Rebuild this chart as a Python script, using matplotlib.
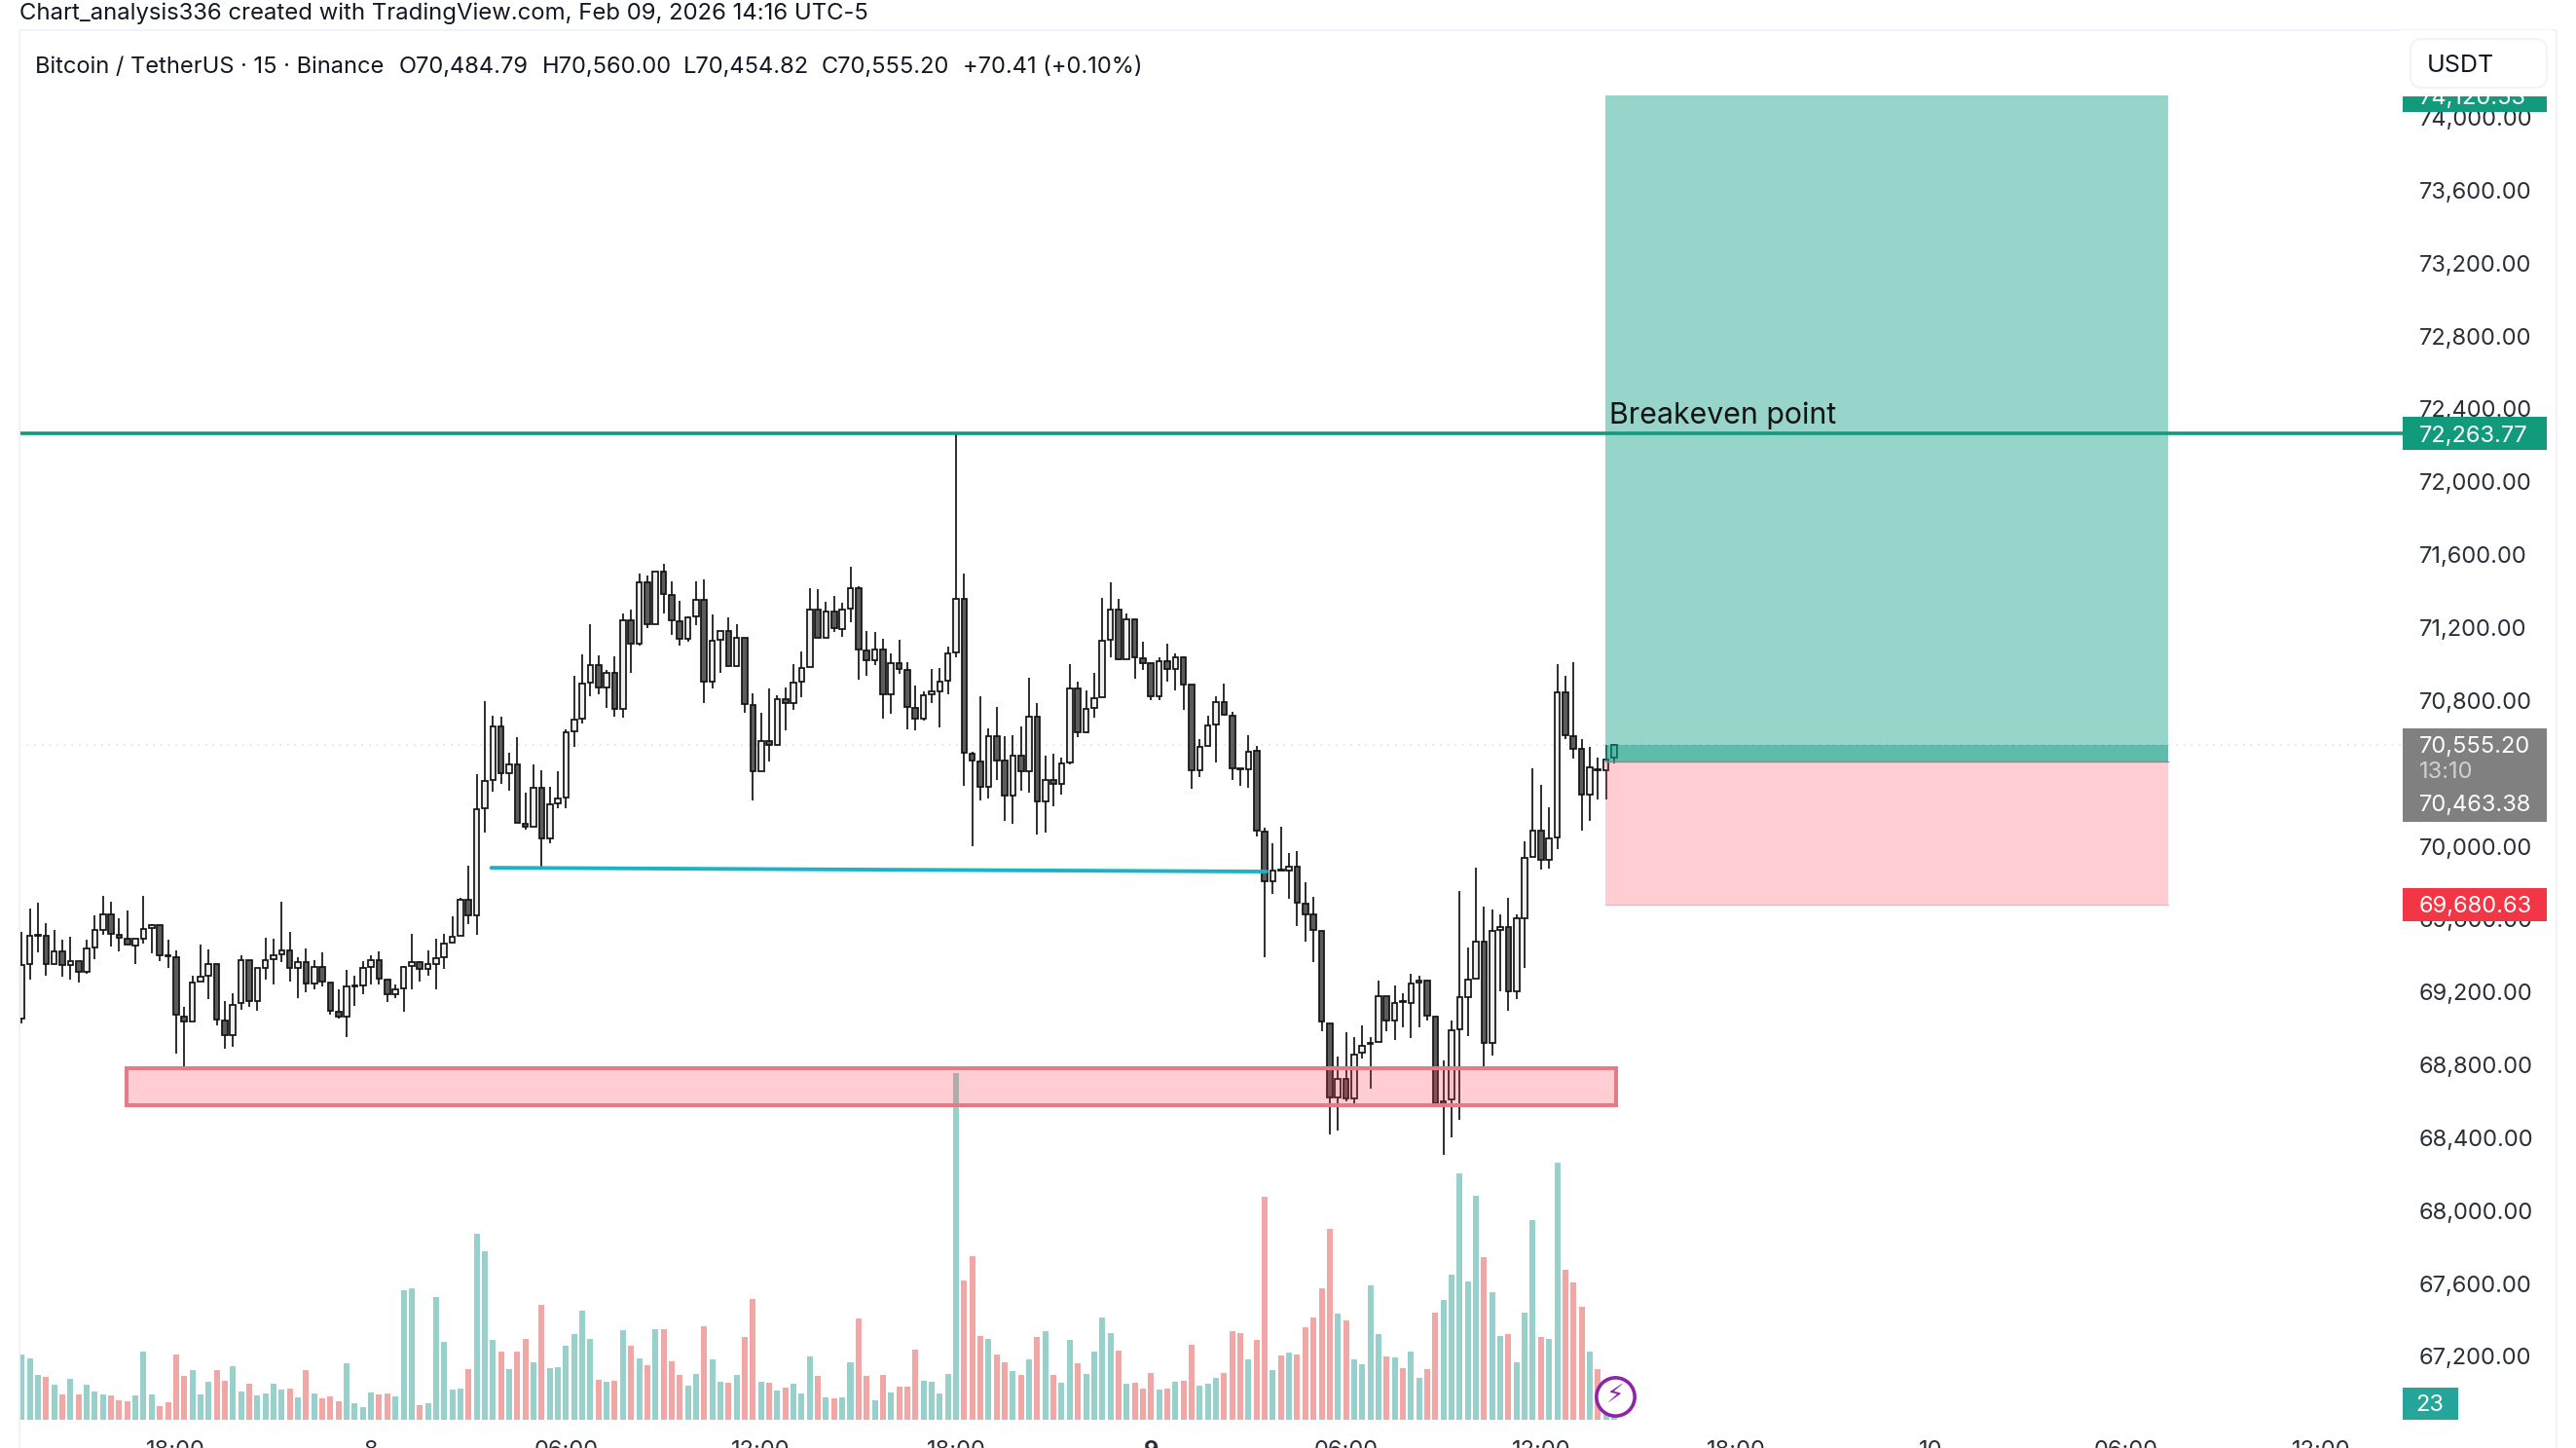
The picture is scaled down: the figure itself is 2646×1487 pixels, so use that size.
import matplotlib
matplotlib.use("Agg")
import matplotlib.pyplot as plt
from matplotlib.patches import Rectangle, FancyBboxPatch
from matplotlib.lines import Line2D
from matplotlib.transforms import IdentityTransform, blended_transform_factory

plt.rcParams['font.family'] = ['Inter', 'DejaVu Sans']

opens = [69052,69352,69511,69511,69352,69424,69348,69369,69308,69443,
69543,69628,69515,69491,69454,69495,69550,69567,69402,69393,
69067,69039,69259,69291,69354,69043,68963,69137,69376,69150,
69330,69378,69406,69428,69332,69365,69248,69337,69252,69091,
69063,69232,69237,69337,69374,69267,69187,69219,69343,69363,
69328,69356,69389,69471,69508,69706,69622,70208,70363,70659,
70399,70449,70123,70107,70321,70043,70235,70267,70631,70698,
70898,70994,70871,70951,70755,71242,71114,71449,71219,71509,
71381,71235,71139,71263,71352,70903,71135,71181,70989,71144,
70775,70413,70577,70556,70807,70786,70903,70984,71299,71144,
71286,71194,71304,71418,71076,71019,71080,70832,71007,70969,
70761,70698,70834,70848,70907,71064,71360,70510,70464,70325,
70604,70471,70278,70497,70412,70710,70247,70362,70343,70458,
70866,70625,70758,70819,71134,71299,71029,71247,71032,71003,
70823,71014,70971,71036,70888,70417,70549,70667,70793,70717,
70428,70423,70523,70080,69808,69873,69865,69889,69684,69626,
69537,69030,68620,68722,68615,68865,68913,68924,69176,69043,
69148,69141,69250,69263,69067,68591,68609,68994,69174,69272,
69476,68920,69541,69556,69202,69602,69941,70086,69923,70047,
70845,70604,70532,70282,70423,70417,70484.79]

closes = [69348,69511,69515,69352,69424,69348,69369,69308,69439,69541,
69628,69519,69498,69458,69491,69545,69567,69402,69398,69076,
69039,69254,69285,69352,69048,68961,69130,69376,69150,69330,
69376,69402,69428,69330,69363,69248,69337,69259,69096,69063,
69230,69237,69332,69374,69272,69189,69215,69337,69363,69328,
69352,69385,69467,69502,69706,69621,70205,70360,70659,70399,
70449,70128,70105,70321,70043,70230,70262,70627,70695,70894,
70992,70871,70951,70755,71242,71114,71449,71219,71509,71384,
71242,71139,71256,71352,70903,71128,71181,70989,71144,70779,
70413,70577,70556,70807,70786,70898,70978,71299,71144,71286,
71197,71301,71418,71078,71019,71080,70832,71007,70971,70764,
70698,70830,70848,70903,71060,71358,70514,70469,70325,70604,
70473,70278,70497,70412,70710,70247,70362,70343,70456,70866,
70625,70753,70814,71127,71299,71029,71247,71036,71003,70823,
71014,70971,71036,70890,70417,70545,70662,70793,70721,70428,
70423,70521,70084,69808,69865,69869,69889,69691,69628,69539,
69037,68620,68722,68615,68859,68907,68917,69176,69043,69141,
69143,69246,69263,69072,68591,68602,68989,69172,69267,69476,
68920,69537,69554,69202,69602,69936,70086,69926,70043,70845,
70608,70536,70282,70432,70419,70475,70555.2]

highs = [69532,69656,69689,69580,69541,69487,69502,69369,69487,69619,
69728,69695,69604,69647,69491,69728,69571,69567,69487,69428,
69117,69287,69461,69432,69354,69152,69193,69402,69376,69330,
69498,69493,69695,69532,69389,69441,69374,69417,69252,69215,
69324,69287,69369,69400,69421,69267,69243,69341,69519,69367,
69428,69493,69521,69613,69715,69891,70396,70796,70716,70711,
70511,70597,70292,70449,70417,70324,70410,70640,70935,71055,
71219,71046,70966,71042,71277,71299,71497,71486,71509,71548,
71452,71345,71260,71452,71465,71272,71181,71254,71219,71144,
70837,70731,70864,70827,70871,71000,71069,71415,71411,71340,
71372,71334,71532,71427,71181,71176,71138,71058,71133,71010,
70882,70850,70973,70978,71096,72266,71497,70517,70825,70645,
70766,70604,70608,70660,70923,70788,70499,70506,70488,70999,
70901,70856,70949,71362,71449,71357,71275,71247,71125,71003,
71038,71110,71058,71042,70888,70586,70716,70825,70895,70738,
70428,70608,70549,70102,70015,70108,69963,69971,69804,69723,
69537,69030,68848,68978,68950,69019,68950,69261,69176,69235,
69191,69298,69287,69263,69067,68826,69046,69754,69445,69880,
69667,69652,69624,69715,69624,70025,70428,70336,70212,70999,
70934,71010,70586,70543,70484,70554,70560]

lows = [69030,69269,69417,69291,69352,69285,69269,69254,69302,69380,
69513,69450,69424,69458,69354,69465,69411,69372,69330,68863,
68787,69039,69259,69163,69015,68889,68900,69104,69119,69098,
69269,69243,69363,69259,69167,69196,69215,69232,69074,69052,
68954,69124,69189,69243,69239,69146,69167,69091,69215,69259,
69287,69215,69328,69471,69508,69574,69515,70075,70298,70342,
70306,70128,70093,70107,69888,70018,70208,70208,70547,70672,
70825,70832,70761,70713,70707,70953,71099,71199,71219,71278,
71162,71103,71124,71215,70788,70868,70953,70989,70989,70734,
70253,70413,70467,70556,70636,70750,70820,70984,71144,71144,
71176,71149,71229,70916,70935,70996,70702,70729,70948,70641,
70636,70689,70787,70654,70836,71039,70332,70002,70254,70260,
70364,70141,70123,70304,70293,70065,70075,70221,70282,70447,
70601,70619,70706,70819,71036,71021,71029,70919,70966,70803,
70803,70906,70853,70749,70314,70380,70549,70460,70721,70365,
70330,70321,70054,69391,69739,69869,69713,69561,69478,69363,
68985,68418,68439,68602,68576,68833,68667,68924,68983,68939,
69004,68946,69004,69043,68585,68305,68403,68498,68957,69272,
68783,68852,69206,69098,69163,69332,69941,69873,69878,69982,
70590,70482,70086,70141,70256,70256,70454.82]

volumes = [536,504,370,354,289,208,338,208,289,234,
208,202,162,153,202,562,208,114,146,536,
361,410,208,312,410,322,442,234,296,202,
218,296,250,257,185,410,218,179,192,153,
465,136,104,224,208,218,192,1066,1082,120,
136,1011,640,250,257,416,1531,1384,656,562,
416,562,666,474,946,426,432,608,705,897,
666,328,312,322,738,608,504,448,744,744,
481,370,283,377,770,497,312,306,370,682,
994,312,306,240,261,293,213,517,357,181,
173,181,469,829,357,157,365,221,269,269,
573,317,309,213,373,2846,1141,1341,685,661,
533,469,397,365,493,677,725,365,301,653,
461,373,557,837,709,565,293,301,253,381,
245,253,309,317,619,282,299,346,384,730,
713,495,658,1832,410,529,555,538,760,841,
1080,1571,875,816,495,457,1106,705,521,512,
427,559,346,418,880,986,1191,2024,1136,1840,
1337,1050,687,705,474,880,1640,683,666,2114,
1234,1127,931,559,418,60,23]

price_ticks = [67200 + 400 * k for k in range(18)]
time_ticks = [19, 43, 67, 91, 115, 139, 163, 187, 211, 235, 259, 283]
time_labels = ['18:00', '8', '06:00', '12:00', '18:00', '9', '06:00', '12:00', '18:00', '10', '06:00', '12:00']

breakeven = 72263.77
target = 74120.53
entry = 70463.38
stop = 69680.63
last = 70555.20
last_time = '13:10'
last_volume = 23
zone_low, zone_high = 68578, 68781
trend_i = [57.8, 153.2]
trend_p = [69882, 69861]
zone_i = [12.9, 196.2]
tool_i = [194.9, 264.2]

W, H = 2646, 1487
fig = plt.figure(figsize=(W / 100, H / 100), dpi=100, facecolor='white')
L, R, T, B = 20, 2468, 30, 1458
rect = [L / W, 1 - B / H, (R - L) / W, (B - T) / H]
axv = fig.add_axes(rect)
ax = fig.add_axes(rect, sharex=axv)
ax.patch.set_visible(False)
axv.patch.set_visible(False)

XLIM = (-0.276, 293.07)
PX_PER_UNIT = 0.1871
P_BOTTOM, P_TOP = 66852, 74484.5
axv.set_xlim(*XLIM)
axv.set_ylim(0, 11424)
ax.set_ylim(P_BOTTOM, P_TOP)

TEXT = '#2a2e39'
FS_AXIS = 17
x = list(range(len(opens)))
up = [c >= o for o, c in zip(opens, closes)]

# volume
axv.bar(x, volumes, width=0.72, color=['#98D1CB' if u else '#F2A7A7' for u in up], linewidth=0, zorder=2)

# candles
ax.vlines(x, lows, highs, color='#131313', linewidth=1.25, zorder=3)
bot = [min(o, c) for o, c in zip(opens, closes)]
hgt = [max(abs(o - c), 5) for o, c in zip(opens, closes)]
ax.bar(x, hgt, bottom=bot, width=0.67,
       color=['#EFEFEF' if u else '#5C5C5C' for u in up],
       edgecolor='#131313', linewidth=1.25, zorder=4)

# last price dotted line
ax.axhline(last, color='#DADADA', lw=1.1, ls=(0, (1, 4)), zorder=1)

# support zone
ax.add_patch(Rectangle((zone_i[0], zone_low), zone_i[1] - zone_i[0], zone_high - zone_low,
                       facecolor=(1.0, 0.23, 0.31, 0.25), edgecolor='#E57B85',
                       linewidth=2.9, zorder=5))

# trend line
ax.plot(trend_i, trend_p, color='#1BB3C6', lw=2.8, solid_capstyle='round', zorder=5)

# position tool
ax.add_patch(Rectangle((tool_i[0], entry), tool_i[1] - tool_i[0], target - entry,
                       facecolor='#089981', alpha=0.42, linewidth=0, zorder=5))
ax.add_patch(Rectangle((tool_i[0], entry), tool_i[1] - tool_i[0], last - entry,
                       facecolor='#089981', alpha=0.40, linewidth=0, zorder=5))
ax.add_patch(Rectangle((tool_i[0], stop), tool_i[1] - tool_i[0], entry - stop,
                       facecolor='#FF3B4E', alpha=0.25, linewidth=0, zorder=5))
ax.plot(tool_i, [entry, entry], color='#8a8a8a', lw=1, zorder=5)
ax.plot(tool_i, [stop, stop], color='#F7B5BB', lw=1, zorder=5)

# breakeven line
ax.axhline(breakeven, color='#129A7D', lw=2.6, zorder=6)
ax.text(tool_i[0] + 0.5, breakeven + 98, 'Breakeven point', fontsize=21.8, color='#131313',
        family=['Inter', 'DejaVu Sans'], va='center', ha='left', zorder=7)

# axes styling
for a in (ax, axv):
    for s in a.spines.values():
        s.set_visible(False)
ax.tick_params(axis='x', length=0, labelbottom=False)
axv.set_yticks([])
axv.set_xticks(time_ticks)
axv.set_xticklabels(time_labels, fontsize=FS_AXIS, color=TEXT)
axv.tick_params(axis='x', length=0, pad=15)
for lab, txt in zip(axv.get_xticklabels(), time_labels):
    if txt == '9':
        lab.set_fontweight('bold')
ax.yaxis.tick_right()
ax.set_yticks(price_ticks)
ax.set_yticklabels([f'{p:,.2f}' for p in price_ticks], fontsize=FS_AXIS, color=TEXT)
ax.tick_params(axis='y', length=0, pad=12)

# price tags
trans = blended_transform_factory(ax.transAxes, ax.transData)
tag_w = 148 / (R - L)
def tag(price, text, color, h_px=34, tc='white'):
    ax.add_patch(Rectangle((1, price - h_px / 2 / PX_PER_UNIT), tag_w, h_px / PX_PER_UNIT,
                           facecolor=color, edgecolor='none', transform=trans, clip_on=False, zorder=8))
    ax.text(1 + 17 / (R - L), price, text, color=tc, fontsize=FS_AXIS, transform=trans,
            va='center_baseline', ha='left', clip_on=False, zorder=9)

tag(target, f'{target:,.2f}', '#129A7D')
tag(breakeven, f'{breakeven:,.2f}', '#129A7D')
tag(stop, f'{stop:,.2f}', '#F23645')

# last price + countdown + entry pill
py = lambda p: 869 - (p - 70000) * PX_PER_UNIT
def px_rect(x0, y0, x1, y1, **kw):
    r = Rectangle((x0, H - y1), x1 - x0, y1 - y0, transform=IdentityTransform(), **kw)
    fig.add_artist(r)
    return r
def px_text(x0, y0, s, **kw):
    fig.text(x0 / W, 1 - y0 / H, s, **kw)

px_rect(2468, 748, 2616, 844, facecolor='#808080', edgecolor='none', zorder=8)
px_text(2485, py(last) + 1.5, f'{last:,.2f}', color='white', fontsize=FS_AXIS, va='center', zorder=9)
px_text(2485, 793, last_time, color='#D0D0D0', fontsize=FS_AXIS, va='center', zorder=9)
px_text(2485, 827, f'{entry:,.2f}', color='white', fontsize=FS_AXIS, va='center', zorder=9)

# volume tag
px_rect(2468, 1425, 2525, 1458, facecolor='#26A69A', edgecolor='none', zorder=8)
px_text(2496, 1443, str(last_volume), color='white', fontsize=FS_AXIS, va='center', ha='center', zorder=9)

# USDT button
px_rect(2466, 31, 2622, 99, facecolor='white', edgecolor='none', zorder=10)
fig.add_artist(FancyBboxPatch((2476, H - 90), 140, 50, boxstyle='round,pad=0,rounding_size=12',
                              transform=IdentityTransform(), facecolor='white', edgecolor='#F0F3FA',
                              linewidth=1.5, zorder=11))
px_text(2493, 67, 'USDT', color='#131722', fontsize=18, va='center', zorder=12)

# lightning icon
ax.scatter([196.1], [66980], s=800, facecolor='white', edgecolor='#8E24AA', linewidth=2.6, zorder=10)
ax.text(196.1, 66980, '\u26A1', family='DejaVu Sans', color='#8E24AA', fontsize=19, ha='center',
        va='center', zorder=11)

# pane borders
for (x0, y0, x1, y1) in [(L, 30.5, 2626, 30.5), (L, 30.5, L, H), (2626, 30.5, 2626, H)]:
    fig.add_artist(Line2D([x0 / W, x1 / W], [1 - y0 / H, 1 - y1 / H], color='#F0F3FA', lw=1.4, zorder=0.5))

# header
px_text(20, 14, 'Chart_analysis336 created with TradingView.com, Feb 09, 2026 14:16 UTC-5',
        color='#131722', fontsize=17.2, va='center', zorder=12)
legend_parts = [('Bitcoin / TetherUS \u00b7 15 \u00b7 Binance', 36), ('O70,484.79', 410), ('H70,560.00', 557),
                ('L70,454.82', 702), ('C70,555.20', 844), ('+70.41 (+0.10%)', 989)]
for s, xp in legend_parts:
    px_text(xp, 69, s, color='#131722', fontsize=17, va='center', zorder=12)

fig.savefig('out.png', dpi=100)
